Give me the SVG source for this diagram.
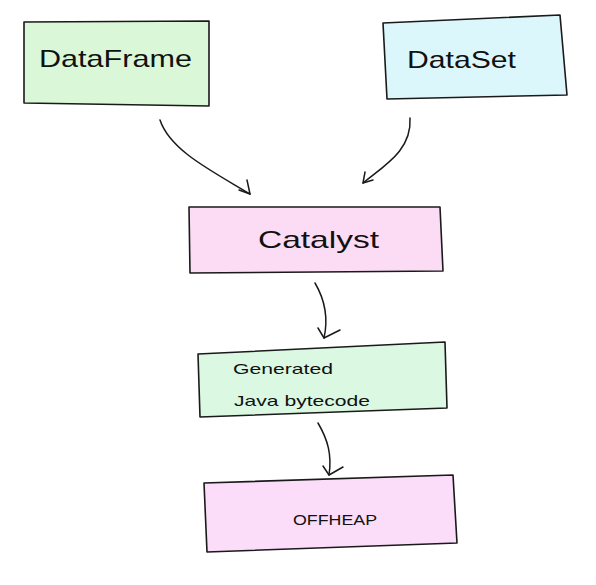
<svg xmlns="http://www.w3.org/2000/svg" width="596" height="585" viewBox="0 0 596 585">
<style>
.box{stroke:#1a1a1a;stroke-width:1.6;stroke-linejoin:round}
.lbl{font-family:"Liberation Sans","DejaVu Sans",sans-serif;fill:#111}
.big{font-size:24px}
.small{font-size:15px}
.conn{fill:none;stroke:#1a1a1a;stroke-width:1.5;stroke-linecap:round;stroke-linejoin:round}
</style>
<rect width="596" height="585" fill="#ffffff"/>
<g id="node-dataframe">
<polygon class="box" points="24,22 209,21 209,106 24,103" fill="#daf8d7"/>
<text class="lbl big" x="39" y="67" textLength="153" lengthAdjust="spacingAndGlyphs">DataFrame</text>
</g>
<g id="node-dataset">
<polygon class="box" points="383,23 560,15 567,95 387,99" fill="#dcf7fc"/>
<text class="lbl big" x="407" y="68" textLength="109" lengthAdjust="spacingAndGlyphs">DataSet</text>
</g>
<g id="node-catalyst">
<polygon class="box" points="189,207 440,207 443,271 190,273" fill="#fbdcf4"/>
<text class="lbl big" x="258" y="248" textLength="121" lengthAdjust="spacingAndGlyphs">Catalyst</text>
</g>
<g id="node-generated">
<polygon class="box" points="198,354 445,342 447,408 200,417" fill="#dbf8e2"/>
<text class="lbl small" x="233" y="374" textLength="100" lengthAdjust="spacingAndGlyphs">Generated</text>
<text class="lbl small" x="234" y="406" textLength="136" lengthAdjust="spacingAndGlyphs">Java bytecode</text>
</g>
<g id="node-offheap">
<polygon class="box" points="204,483 453,475 457,543 207,552" fill="#fbdcf9"/>
<text class="lbl small" x="293" y="525" textLength="84" lengthAdjust="spacingAndGlyphs">OFFHEAP</text>
</g>
<g id="connectors">
<path class="conn" d="M160,120 C170,150 210,170 250,194"/>
<path class="conn" d="M239,190 L250,194 L247,180"/>
<path class="conn" d="M410,118 C412,150 385,165 363,183"/>
<path class="conn" d="M373,180 L363,183 L365,172"/>
<path class="conn" d="M315,283 C325,300 328,320 324,338"/>
<path class="conn" d="M318,328 L324,338 L340,330"/>
<path class="conn" d="M318,423 C328,440 332,455 329,475"/>
<path class="conn" d="M323,466 L329,475 L343,467"/>
</g>
</svg>
